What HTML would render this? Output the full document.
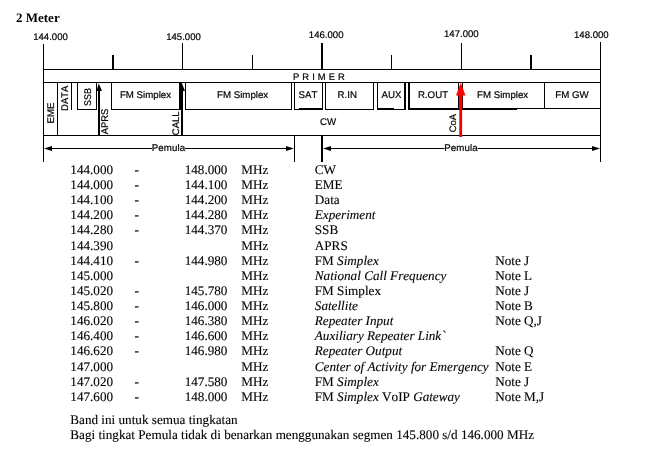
<!DOCTYPE html>
<html><head><meta charset="utf-8"><title>2 Meter</title>
<style>
html,body{margin:0;padding:0;background:#fff;font-kerning:none;text-rendering:geometricPrecision;}
svg text{font-kerning:none;text-rendering:geometricPrecision;}
#w{position:absolute;left:0;top:0;width:648px;height:470px;will-change:transform;}
body{width:648px;height:470px;position:relative;overflow:hidden;font-family:"Liberation Serif",serif;color:#000;}
.t{position:absolute;white-space:nowrap;}
.r{position:absolute;left:0;height:15px;line-height:15px;font-size:13.17px;-webkit-text-stroke:0.12px #000;white-space:nowrap;}
.r span{position:absolute;top:0;white-space:nowrap;}
.a{position:absolute;font-family:"Liberation Sans",sans-serif;font-size:9.6px;line-height:10px;white-space:nowrap;-webkit-text-stroke:0.2px #000;}
svg{position:absolute;left:0;top:0;}
svg text{font-family:"Liberation Sans",sans-serif;font-size:9.7px;fill:#000;stroke:#000;stroke-width:0.2px;}
</style></head><body><div id="w">
<div class="t" style="left:16px;top:10.3px;font-size:13px;font-weight:bold;line-height:15px;">2 Meter</div>
<div class="a" style="left:33.2px;top:32.6px;">144.000</div>
<div class="a" style="left:166.2px;top:32.6px;">145.000</div>
<div class="a" style="left:308.8px;top:30.6px;">146.000</div>
<div class="a" style="left:444px;top:29.5px;">147.000</div>
<div class="a" style="left:574px;top:30.6px;">148.000</div>
<svg width="648" height="470" viewBox="0 0 648 470">
<g stroke="#000" stroke-width="1" fill="none" shape-rendering="crispEdges">
<!-- main verticals -->
<line x1="43.5" y1="44" x2="43.5" y2="161.5"/>
<line x1="182.5" y1="43" x2="182.5" y2="69"/>
<line x1="322" y1="43" x2="322" y2="69"/>
<line x1="322" y1="135" x2="322" y2="161.5"/>
<line x1="461.5" y1="43" x2="461.5" y2="69"/>
<line x1="600.5" y1="42" x2="600.5" y2="161.5"/>
<!-- ticks -->
<line x1="113" y1="55" x2="113" y2="69"/>
<line x1="252.5" y1="55" x2="252.5" y2="69"/>
<line x1="391.5" y1="55" x2="391.5" y2="69"/>
<line x1="531" y1="55" x2="531" y2="69"/>
<!-- horizontals -->
<line x1="43" y1="69.5" x2="601" y2="69.5"/>
<line x1="43" y1="82.5" x2="601" y2="82.5"/>
<line x1="43" y1="135.5" x2="601" y2="135.5"/>
<!-- EME / DATA -->
<line x1="57.5" y1="82" x2="57.5" y2="135"/>
<line x1="71.5" y1="82" x2="71.5" y2="109.5"/>
<!-- SSB -->
<polyline points="77.5,82 77.5,109.5 96.5,109.5 96.5,82"/>
<!-- FM Simplex 1 -->
<polyline points="111.5,82 111.5,109.5 179.5,109.5 179.5,82"/>
<!-- FM Simplex 2 -->
<polyline points="185.5,82 185.5,109.5 291.5,109.5 291.5,82"/>
<!-- SAT -->
<polyline points="294.5,82 294.5,109.5 322.5,109.5 322.5,82"/>
<!-- R.IN -->
<polyline points="325.5,82 325.5,109.5 373.5,109.5 373.5,82"/>
<!-- AUX -->
<polyline points="377.5,82 377.5,109.5 405,109.5"/>
<line x1="544.5" y1="82" x2="544.5" y2="109"/>
<line x1="458.5" y1="82" x2="458.5" y2="109"/>
<line x1="462.5" y1="82" x2="462.5" y2="109"/>
<line x1="517" y1="108.5" x2="601" y2="108.5"/>
<!-- Pemula end -->
<line x1="294.5" y1="135" x2="294.5" y2="161.5"/>
<!-- Pemula arrows -->
<line x1="46" y1="148.5" x2="292" y2="148.5"/>
<line x1="325" y1="148.5" x2="598" y2="148.5"/>
</g>
<g stroke="#000" fill="none" shape-rendering="crispEdges">
<line x1="113" y1="55" x2="113" y2="69" stroke-width="2"/>
<line x1="531" y1="55" x2="531" y2="69" stroke-width="2"/>
<line x1="322" y1="43" x2="322" y2="69" stroke-width="2"/>
<line x1="322" y1="135" x2="322" y2="161.5" stroke-width="2"/>
<line x1="299" y1="109" x2="322" y2="109" stroke-width="2"/>
<line x1="377" y1="109" x2="394" y2="109" stroke-width="2"/>
<line x1="394" y1="109.5" x2="405" y2="109.5" stroke-width="1"/>
<line x1="405" y1="82" x2="405" y2="110" stroke-width="2"/>
<line x1="409" y1="82" x2="409" y2="110" stroke-width="2"/>
<line x1="408" y1="109" x2="517" y2="109" stroke-width="2"/>
<line x1="99" y1="135" x2="99" y2="88" stroke-width="2"/>
<line x1="182" y1="135" x2="182" y2="88" stroke-width="2"/>
<line x1="180.5" y1="82" x2="180.5" y2="110" stroke-width="2"/>
</g>
<g fill="#000" stroke="none">
<polygon points="44,148.5 52,146 52,151"/>
<polygon points="294,148.5 286,146 286,151"/>
<polygon points="323,148.5 331,146 331,151"/>
<polygon points="600,148.5 592,146 592,151"/>
<polygon points="98.7,83.5 102,91 96.5,91"/>
<polygon points="182,83.5 185,91 180,91"/>
</g>
<rect x="152" y="143" width="33" height="11" fill="#fff"/>
<rect x="444.5" y="143" width="33" height="11" fill="#fff"/>
<!-- red arrow -->
<line x1="460.7" y1="137" x2="460.7" y2="108" stroke="#f00000" stroke-width="2.8"/>
<line x1="460.65" y1="108" x2="460.65" y2="92" stroke="#f00" stroke-width="3.4"/>
<polygon points="460.7,82.7 465.5,95.5 456,95.5" fill="#f00"/>
<text x="293" y="79.7" style="letter-spacing:3.06px;font-size:9.4px">PRIMER</text>
<text x="145.5" y="98" text-anchor="middle">FM Simplex</text>
<text x="242.6" y="98" text-anchor="middle">FM Simplex</text>
<text x="308" y="98" text-anchor="middle">SAT</text>
<text x="347.3" y="98" text-anchor="middle">R.IN</text>
<text x="391.4" y="98" text-anchor="middle">AUX</text>
<text x="433" y="98" text-anchor="middle">R.OUT</text>
<text x="502.6" y="98" text-anchor="middle">FM Simplex</text>
<text x="572" y="98" text-anchor="middle">FM GW</text>
<text x="328" y="125" text-anchor="middle">CW</text>
<text x="168.5" y="150.6" text-anchor="middle" style="letter-spacing:0.13px">Pemula</text>
<text x="461" y="150.6" text-anchor="middle" style="letter-spacing:0.13px">Pemula</text>
<text transform="translate(54.3,123.5) rotate(-90)">EME</text>
<text transform="translate(68.2,110.9) rotate(-90) scale(0.97,1)">DATA</text>
<text transform="translate(90.6,106.1) rotate(-90) scale(0.935,1)">SSB</text>
<text transform="translate(108.3,134.3) rotate(-90) scale(0.975,1)">APRS</text>
<text transform="translate(179,135.2) rotate(-90)" style="font-size:9.5px">CALL</text>
<text transform="translate(455.9,132.3) rotate(-90)" style="font-size:9.45px">CoA</text>
</svg>
<div class="r" style="top:161.85px"><span style="left:70.3px">144.000</span><span style="left:134.4px">-</span><span style="left:184.7px">148.000</span><span style="left:241.3px">MHz</span><span style="left:314.8px">CW</span></div>
<div class="r" style="top:176.98px"><span style="left:70.3px">144.000</span><span style="left:134.4px">-</span><span style="left:184.7px">144.100</span><span style="left:241.3px">MHz</span><span style="left:314.8px">EME</span></div>
<div class="r" style="top:192.12px"><span style="left:70.3px">144.100</span><span style="left:134.4px">-</span><span style="left:184.7px">144.200</span><span style="left:241.3px">MHz</span><span style="left:314.8px">Data</span></div>
<div class="r" style="top:207.25px"><span style="left:70.3px">144.200</span><span style="left:134.4px">-</span><span style="left:184.7px">144.280</span><span style="left:241.3px">MHz</span><span style="left:314.8px"><i>Experiment</i></span></div>
<div class="r" style="top:222.38px"><span style="left:70.3px">144.280</span><span style="left:134.4px">-</span><span style="left:184.7px">144.370</span><span style="left:241.3px">MHz</span><span style="left:314.8px">SSB</span></div>
<div class="r" style="top:237.51px"><span style="left:70.3px">144.390</span><span style="left:241.3px">MHz</span><span style="left:314.8px">APRS</span></div>
<div class="r" style="top:252.65px"><span style="left:70.3px">144.410</span><span style="left:134.4px">-</span><span style="left:184.7px">144.980</span><span style="left:241.3px">MHz</span><span style="left:314.8px">FM <i>Simplex</i></span><span style="left:495.2px">Note J</span></div>
<div class="r" style="top:267.78px"><span style="left:70.3px">145.000</span><span style="left:241.3px">MHz</span><span style="left:314.8px"><i>National Call Frequency</i></span><span style="left:495.2px">Note L</span></div>
<div class="r" style="top:282.91px"><span style="left:70.3px">145.020</span><span style="left:134.4px">-</span><span style="left:184.7px">145.780</span><span style="left:241.3px">MHz</span><span style="left:314.8px">FM Simplex</span><span style="left:495.2px">Note J</span></div>
<div class="r" style="top:298.05px"><span style="left:70.3px">145.800</span><span style="left:134.4px">-</span><span style="left:184.7px">146.000</span><span style="left:241.3px">MHz</span><span style="left:314.8px"><i>Satellite</i></span><span style="left:495.2px">Note B</span></div>
<div class="r" style="top:313.18px"><span style="left:70.3px">146.020</span><span style="left:134.4px">-</span><span style="left:184.7px">146.380</span><span style="left:241.3px">MHz</span><span style="left:314.8px"><i>Repeater Input</i></span><span style="left:495.2px">Note Q,J</span></div>
<div class="r" style="top:328.31px"><span style="left:70.3px">146.400</span><span style="left:134.4px">-</span><span style="left:184.7px">146.600</span><span style="left:241.3px">MHz</span><span style="left:314.8px"><i>Auxiliary Repeater Link`</i></span></div>
<div class="r" style="top:343.45px"><span style="left:70.3px">146.620</span><span style="left:134.4px">-</span><span style="left:184.7px">146.980</span><span style="left:241.3px">MHz</span><span style="left:314.8px"><i>Repeater Output</i></span><span style="left:495.2px">Note Q</span></div>
<div class="r" style="top:358.58px"><span style="left:70.3px">147.000</span><span style="left:241.3px">MHz</span><span style="left:314.8px"><i>Center of Activity for Emergency</i></span><span style="left:495.2px">Note E</span></div>
<div class="r" style="top:373.71px"><span style="left:70.3px">147.020</span><span style="left:134.4px">-</span><span style="left:184.7px">147.580</span><span style="left:241.3px">MHz</span><span style="left:314.8px">FM <i>Simplex</i></span><span style="left:495.2px">Note J</span></div>
<div class="r" style="top:388.85px"><span style="left:70.3px">147.600</span><span style="left:134.4px">-</span><span style="left:184.7px">148.000</span><span style="left:241.3px">MHz</span><span style="left:314.8px">FM <i>Simplex</i> VoIP <i>Gateway</i></span><span style="left:495.2px">Note M,J</span></div>
<div class="r" style="top:411.90px"><span style="left:70.3px">Band ini untuk semua tingkatan</span></div>
<div class="r" style="top:427.20px"><span style="left:70.3px">Bagi tingkat Pemula tidak di benarkan menggunakan segmen 145.800 s/d 146.000 MHz</span></div>
</div></body></html>
